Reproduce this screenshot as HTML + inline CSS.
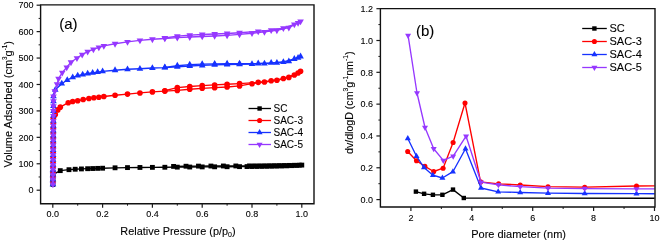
<!DOCTYPE html>
<html><head><meta charset="utf-8"><style>
html,body{margin:0;padding:0;background:#fff;width:661px;height:241px;overflow:hidden}
svg{display:block;transform:translateZ(0)}
text{font-family:"Liberation Sans", sans-serif;fill:#000;stroke:#000;stroke-width:0.1px}
</style></head><body>
<svg width="661" height="241" viewBox="0 0 661 241">
<defs><clipPath id="cl"><rect x="40" y="5" width="274" height="198.3"/></clipPath>
<clipPath id="cr"><rect x="380.45" y="8.7" width="274.15" height="198.5"/></clipPath></defs>
<g clip-path="url(#cl)">
<path d="M52.94 184.39 L52.97 179.5 L53 174.61 L60.27 170.64 L68.98 169.68 L75.21 169.24 L81.44 168.94 L87.66 168.7 L92.64 168.53 L97.62 168.37 L102.6 168.21 L115.05 167.81 L127.5 167.6 L139.95 167.47 L152.4 167.36 L164.85 167.26 L177.3 167.14 L189.75 167.03 L202.2 166.91 L214.65 166.81 L227.1 166.72 L239.55 166.64 L247.02 166.57 L252 166.52 L256.98 166.47 L261.96 166.4 L266.94 166.33 L271.92 166.24 L276.9 166.15 L281.88 166.02 L286.86 165.85 L291.84 165.65 L296.82 165.39 L301.8 165.09" fill="none" stroke="#000000" stroke-width="1.35" stroke-linejoin="round"/>
<path d="M299.31 165.16 L294.33 165.28 L289.35 165.39 L284.37 165.5 L279.39 165.58 L274.41 165.65 L269.43 165.72 L264.45 165.78 L259.47 165.83 L254.49 165.87 L249.51 165.9 L235.81 165.95 L223.37 165.98 L210.92 166.04 L198.46 166.1 L186.01 166.21 L173.56 166.41" fill="none" stroke="#000000" stroke-width="1.35" stroke-linejoin="round"/>
<rect x="50.52" y="181.97" width="4.84" height="4.84" fill="#000000"/>
<rect x="50.55" y="177.08" width="4.84" height="4.84" fill="#000000"/>
<rect x="50.58" y="172.19" width="4.84" height="4.84" fill="#000000"/>
<rect x="57.85" y="168.22" width="4.84" height="4.84" fill="#000000"/>
<rect x="66.56" y="167.26" width="4.84" height="4.84" fill="#000000"/>
<rect x="72.79" y="166.82" width="4.84" height="4.84" fill="#000000"/>
<rect x="79.02" y="166.52" width="4.84" height="4.84" fill="#000000"/>
<rect x="85.24" y="166.28" width="4.84" height="4.84" fill="#000000"/>
<rect x="90.22" y="166.11" width="4.84" height="4.84" fill="#000000"/>
<rect x="95.2" y="165.95" width="4.84" height="4.84" fill="#000000"/>
<rect x="100.18" y="165.79" width="4.84" height="4.84" fill="#000000"/>
<rect x="112.63" y="165.39" width="4.84" height="4.84" fill="#000000"/>
<rect x="125.08" y="165.18" width="4.84" height="4.84" fill="#000000"/>
<rect x="137.53" y="165.05" width="4.84" height="4.84" fill="#000000"/>
<rect x="149.98" y="164.94" width="4.84" height="4.84" fill="#000000"/>
<rect x="162.43" y="164.84" width="4.84" height="4.84" fill="#000000"/>
<rect x="174.88" y="164.72" width="4.84" height="4.84" fill="#000000"/>
<rect x="187.33" y="164.61" width="4.84" height="4.84" fill="#000000"/>
<rect x="199.78" y="164.49" width="4.84" height="4.84" fill="#000000"/>
<rect x="212.23" y="164.39" width="4.84" height="4.84" fill="#000000"/>
<rect x="224.68" y="164.3" width="4.84" height="4.84" fill="#000000"/>
<rect x="237.13" y="164.22" width="4.84" height="4.84" fill="#000000"/>
<rect x="244.6" y="164.15" width="4.84" height="4.84" fill="#000000"/>
<rect x="249.58" y="164.1" width="4.84" height="4.84" fill="#000000"/>
<rect x="254.56" y="164.05" width="4.84" height="4.84" fill="#000000"/>
<rect x="259.54" y="163.98" width="4.84" height="4.84" fill="#000000"/>
<rect x="264.52" y="163.91" width="4.84" height="4.84" fill="#000000"/>
<rect x="269.5" y="163.82" width="4.84" height="4.84" fill="#000000"/>
<rect x="274.48" y="163.73" width="4.84" height="4.84" fill="#000000"/>
<rect x="279.46" y="163.6" width="4.84" height="4.84" fill="#000000"/>
<rect x="284.44" y="163.43" width="4.84" height="4.84" fill="#000000"/>
<rect x="289.42" y="163.23" width="4.84" height="4.84" fill="#000000"/>
<rect x="294.4" y="162.97" width="4.84" height="4.84" fill="#000000"/>
<rect x="299.38" y="162.67" width="4.84" height="4.84" fill="#000000"/>
<rect x="296.89" y="162.74" width="4.84" height="4.84" fill="#000000"/>
<rect x="291.91" y="162.86" width="4.84" height="4.84" fill="#000000"/>
<rect x="286.93" y="162.97" width="4.84" height="4.84" fill="#000000"/>
<rect x="281.95" y="163.08" width="4.84" height="4.84" fill="#000000"/>
<rect x="276.97" y="163.16" width="4.84" height="4.84" fill="#000000"/>
<rect x="271.99" y="163.23" width="4.84" height="4.84" fill="#000000"/>
<rect x="267.01" y="163.3" width="4.84" height="4.84" fill="#000000"/>
<rect x="262.03" y="163.36" width="4.84" height="4.84" fill="#000000"/>
<rect x="257.05" y="163.41" width="4.84" height="4.84" fill="#000000"/>
<rect x="252.07" y="163.45" width="4.84" height="4.84" fill="#000000"/>
<rect x="247.09" y="163.48" width="4.84" height="4.84" fill="#000000"/>
<rect x="233.4" y="163.53" width="4.84" height="4.84" fill="#000000"/>
<rect x="220.95" y="163.56" width="4.84" height="4.84" fill="#000000"/>
<rect x="208.5" y="163.62" width="4.84" height="4.84" fill="#000000"/>
<rect x="196.04" y="163.68" width="4.84" height="4.84" fill="#000000"/>
<rect x="183.59" y="163.79" width="4.84" height="4.84" fill="#000000"/>
<rect x="171.15" y="163.99" width="4.84" height="4.84" fill="#000000"/>
<path d="M52.95 181.94 L52.98 177.05 L53.01 172.16 L53.04 167.27 L53.08 162.38 L53.11 157.49 L53.14 152.6 L53.17 147.71 L53.2 142.82 L53.23 137.93 L53.26 133.05 L53.29 128.16 L53.32 123.27 L53.35 118.38 L55.29 114.61 L57.78 109.93 L60.27 107.16 L68.24 102.71 L72.72 101.55 L77.7 100.8 L83.18 99.49 L88.91 98.49 L93.88 97.8 L98.86 97.2 L103.84 96.51 L115.05 95.21 L127.5 94.1 L139.95 92.94 L152.4 91.88 L164.85 91.09 L177.3 90.4 L189.75 89.26 L202.2 88.3 L214.65 87.68 L227.1 87.03 L239.55 85.9 L252 83.69 L264.45 81.97 L276.9 80.25 L288.85 77.38 L298.06 73.06" fill="none" stroke="#FF0000" stroke-width="1.35" stroke-linejoin="round"/>
<path d="M300.56 71.27 L294.33 74.97 L283.37 78.56 L271.17 80.8 L258.22 82.37 L239.55 83.61 L227.1 84.28 L214.65 84.94 L202.2 85.66 L189.75 86.49 L177.3 87.65 L164.85 90.69" fill="none" stroke="#FF0000" stroke-width="1.35" stroke-linejoin="round"/>
<circle cx="52.95" cy="181.94" r="2.81" fill="#FF0000"/>
<circle cx="52.98" cy="177.05" r="2.81" fill="#FF0000"/>
<circle cx="53.01" cy="172.16" r="2.81" fill="#FF0000"/>
<circle cx="53.04" cy="167.27" r="2.81" fill="#FF0000"/>
<circle cx="53.08" cy="162.38" r="2.81" fill="#FF0000"/>
<circle cx="53.11" cy="157.49" r="2.81" fill="#FF0000"/>
<circle cx="53.14" cy="152.6" r="2.81" fill="#FF0000"/>
<circle cx="53.17" cy="147.71" r="2.81" fill="#FF0000"/>
<circle cx="53.2" cy="142.82" r="2.81" fill="#FF0000"/>
<circle cx="53.23" cy="137.93" r="2.81" fill="#FF0000"/>
<circle cx="53.26" cy="133.05" r="2.81" fill="#FF0000"/>
<circle cx="53.29" cy="128.16" r="2.81" fill="#FF0000"/>
<circle cx="53.32" cy="123.27" r="2.81" fill="#FF0000"/>
<circle cx="53.35" cy="118.38" r="2.81" fill="#FF0000"/>
<circle cx="55.29" cy="114.61" r="2.81" fill="#FF0000"/>
<circle cx="57.78" cy="109.93" r="2.81" fill="#FF0000"/>
<circle cx="60.27" cy="107.16" r="2.81" fill="#FF0000"/>
<circle cx="68.24" cy="102.71" r="2.81" fill="#FF0000"/>
<circle cx="72.72" cy="101.55" r="2.81" fill="#FF0000"/>
<circle cx="77.7" cy="100.8" r="2.81" fill="#FF0000"/>
<circle cx="83.18" cy="99.49" r="2.81" fill="#FF0000"/>
<circle cx="88.91" cy="98.49" r="2.81" fill="#FF0000"/>
<circle cx="93.88" cy="97.8" r="2.81" fill="#FF0000"/>
<circle cx="98.86" cy="97.2" r="2.81" fill="#FF0000"/>
<circle cx="103.84" cy="96.51" r="2.81" fill="#FF0000"/>
<circle cx="115.05" cy="95.21" r="2.81" fill="#FF0000"/>
<circle cx="127.5" cy="94.1" r="2.81" fill="#FF0000"/>
<circle cx="139.95" cy="92.94" r="2.81" fill="#FF0000"/>
<circle cx="152.4" cy="91.88" r="2.81" fill="#FF0000"/>
<circle cx="164.85" cy="91.09" r="2.81" fill="#FF0000"/>
<circle cx="177.3" cy="90.4" r="2.81" fill="#FF0000"/>
<circle cx="189.75" cy="89.26" r="2.81" fill="#FF0000"/>
<circle cx="202.2" cy="88.3" r="2.81" fill="#FF0000"/>
<circle cx="214.65" cy="87.68" r="2.81" fill="#FF0000"/>
<circle cx="227.1" cy="87.03" r="2.81" fill="#FF0000"/>
<circle cx="239.55" cy="85.9" r="2.81" fill="#FF0000"/>
<circle cx="252" cy="83.69" r="2.81" fill="#FF0000"/>
<circle cx="264.45" cy="81.97" r="2.81" fill="#FF0000"/>
<circle cx="276.9" cy="80.25" r="2.81" fill="#FF0000"/>
<circle cx="288.85" cy="77.38" r="2.81" fill="#FF0000"/>
<circle cx="298.06" cy="73.06" r="2.81" fill="#FF0000"/>
<circle cx="300.56" cy="71.27" r="2.81" fill="#FF0000"/>
<circle cx="294.33" cy="74.97" r="2.81" fill="#FF0000"/>
<circle cx="283.37" cy="78.56" r="2.81" fill="#FF0000"/>
<circle cx="271.17" cy="80.8" r="2.81" fill="#FF0000"/>
<circle cx="258.22" cy="82.37" r="2.81" fill="#FF0000"/>
<circle cx="239.55" cy="83.61" r="2.81" fill="#FF0000"/>
<circle cx="227.1" cy="84.28" r="2.81" fill="#FF0000"/>
<circle cx="214.65" cy="84.94" r="2.81" fill="#FF0000"/>
<circle cx="202.2" cy="85.66" r="2.81" fill="#FF0000"/>
<circle cx="189.75" cy="86.49" r="2.81" fill="#FF0000"/>
<circle cx="177.3" cy="87.65" r="2.81" fill="#FF0000"/>
<circle cx="164.85" cy="90.69" r="2.81" fill="#FF0000"/>
<path d="M52.94 184.39 L52.97 179.5 L53 174.61 L53.03 169.72 L53.06 164.83 L53.09 159.94 L53.12 155.05 L53.15 150.16 L53.18 145.27 L53.21 140.38 L53.24 135.49 L53.28 130.6 L53.31 125.71 L53.34 120.82 L53.37 115.93 L53.4 111.04 L53.43 106.15 L53.46 101.26 L53.49 96.37 L55.29 89.77 L61.76 83.69 L67.24 79.99 L72.72 77.34 L77.7 75.63 L82.68 74.57 L87.66 73.51 L92.64 72.8 L97.62 72.19 L102.6 71.4 L115.05 70.21 L127.5 69.28 L139.95 68.76 L152.4 68.01 L164.85 67.58 L177.3 66.77 L189.75 65.98 L202.2 65.45 L214.65 64.92 L227.1 64.53 L239.55 64.39 L252 64.13 L264.45 63.6 L276.9 62.81 L288.85 61.33 L298.06 57.73" fill="none" stroke="#1632FF" stroke-width="1.35" stroke-linejoin="round"/>
<path d="M300.56 56.46 L294.33 58.96 L283.37 62.01 L271.17 62.94 L258.22 63.47 L239.55 63.6 L227.1 63.71 L214.65 63.86 L202.2 64.16 L189.75 64.66 L177.3 65.72 L164.85 67.43" fill="none" stroke="#1632FF" stroke-width="1.35" stroke-linejoin="round"/>
<path d="M52.94 180.54L56.24 186.31L49.64 186.31Z" fill="#1632FF"/>
<path d="M52.97 175.65L56.27 181.42L49.67 181.42Z" fill="#1632FF"/>
<path d="M53 170.76L56.3 176.53L49.7 176.53Z" fill="#1632FF"/>
<path d="M53.03 165.87L56.33 171.64L49.73 171.64Z" fill="#1632FF"/>
<path d="M53.06 160.98L56.36 166.75L49.76 166.75Z" fill="#1632FF"/>
<path d="M53.09 156.09L56.39 161.86L49.79 161.86Z" fill="#1632FF"/>
<path d="M53.12 151.2L56.42 156.97L49.82 156.97Z" fill="#1632FF"/>
<path d="M53.15 146.31L56.45 152.08L49.85 152.08Z" fill="#1632FF"/>
<path d="M53.18 141.42L56.48 147.19L49.88 147.19Z" fill="#1632FF"/>
<path d="M53.21 136.53L56.51 142.3L49.91 142.3Z" fill="#1632FF"/>
<path d="M53.24 131.64L56.54 137.41L49.95 137.41Z" fill="#1632FF"/>
<path d="M53.28 126.75L56.58 132.53L49.98 132.53Z" fill="#1632FF"/>
<path d="M53.31 121.86L56.61 127.64L50.01 127.64Z" fill="#1632FF"/>
<path d="M53.34 116.97L56.64 122.75L50.04 122.75Z" fill="#1632FF"/>
<path d="M53.37 112.08L56.67 117.86L50.07 117.86Z" fill="#1632FF"/>
<path d="M53.4 107.19L56.7 112.97L50.1 112.97Z" fill="#1632FF"/>
<path d="M53.43 102.3L56.73 108.08L50.13 108.08Z" fill="#1632FF"/>
<path d="M53.46 97.41L56.76 103.19L50.16 103.19Z" fill="#1632FF"/>
<path d="M53.49 92.52L56.79 98.3L50.19 98.3Z" fill="#1632FF"/>
<path d="M55.29 85.92L58.59 91.69L51.99 91.69Z" fill="#1632FF"/>
<path d="M61.76 79.84L65.06 85.61L58.46 85.61Z" fill="#1632FF"/>
<path d="M67.24 76.14L70.54 81.91L63.94 81.91Z" fill="#1632FF"/>
<path d="M72.72 73.49L76.02 79.27L69.42 79.27Z" fill="#1632FF"/>
<path d="M77.7 71.78L81 77.55L74.4 77.55Z" fill="#1632FF"/>
<path d="M82.68 70.72L85.98 76.49L79.38 76.49Z" fill="#1632FF"/>
<path d="M87.66 69.66L90.96 75.44L84.36 75.44Z" fill="#1632FF"/>
<path d="M92.64 68.95L95.94 74.72L89.34 74.72Z" fill="#1632FF"/>
<path d="M97.62 68.34L100.92 74.12L94.32 74.12Z" fill="#1632FF"/>
<path d="M102.6 67.55L105.9 73.32L99.3 73.32Z" fill="#1632FF"/>
<path d="M115.05 66.36L118.35 72.13L111.75 72.13Z" fill="#1632FF"/>
<path d="M127.5 65.43L130.8 71.21L124.2 71.21Z" fill="#1632FF"/>
<path d="M139.95 64.91L143.25 70.69L136.65 70.69Z" fill="#1632FF"/>
<path d="M152.4 64.16L155.7 69.94L149.1 69.94Z" fill="#1632FF"/>
<path d="M164.85 63.73L168.15 69.51L161.55 69.51Z" fill="#1632FF"/>
<path d="M177.3 62.92L180.6 68.7L174 68.7Z" fill="#1632FF"/>
<path d="M189.75 62.13L193.05 67.9L186.45 67.9Z" fill="#1632FF"/>
<path d="M202.2 61.6L205.5 67.38L198.9 67.38Z" fill="#1632FF"/>
<path d="M214.65 61.07L217.95 66.85L211.35 66.85Z" fill="#1632FF"/>
<path d="M227.1 60.68L230.4 66.45L223.8 66.45Z" fill="#1632FF"/>
<path d="M239.55 60.54L242.85 66.32L236.25 66.32Z" fill="#1632FF"/>
<path d="M252 60.28L255.3 66.05L248.7 66.05Z" fill="#1632FF"/>
<path d="M264.45 59.75L267.75 65.53L261.15 65.53Z" fill="#1632FF"/>
<path d="M276.9 58.96L280.2 64.73L273.6 64.73Z" fill="#1632FF"/>
<path d="M288.85 57.48L292.15 63.25L285.55 63.25Z" fill="#1632FF"/>
<path d="M298.06 53.88L301.37 59.65L294.76 59.65Z" fill="#1632FF"/>
<path d="M300.56 52.61L303.86 58.39L297.25 58.39Z" fill="#1632FF"/>
<path d="M294.33 55.11L297.63 60.88L291.03 60.88Z" fill="#1632FF"/>
<path d="M283.37 58.16L286.67 63.94L280.07 63.94Z" fill="#1632FF"/>
<path d="M271.17 59.09L274.47 64.86L267.87 64.86Z" fill="#1632FF"/>
<path d="M258.22 59.62L261.52 65.39L254.92 65.39Z" fill="#1632FF"/>
<path d="M239.55 59.75L242.85 65.53L236.25 65.53Z" fill="#1632FF"/>
<path d="M227.1 59.86L230.4 65.63L223.8 65.63Z" fill="#1632FF"/>
<path d="M214.65 60.01L217.95 65.79L211.35 65.79Z" fill="#1632FF"/>
<path d="M202.2 60.31L205.5 66.08L198.9 66.08Z" fill="#1632FF"/>
<path d="M189.75 60.81L193.05 66.58L186.45 66.58Z" fill="#1632FF"/>
<path d="M177.3 61.87L180.6 67.64L174 67.64Z" fill="#1632FF"/>
<path d="M164.85 63.58L168.15 69.35L161.55 69.35Z" fill="#1632FF"/>
<path d="M52.94 184.39 L52.97 179.5 L53 174.61 L53.03 169.72 L53.06 164.83 L53.09 159.94 L53.12 155.05 L53.15 150.16 L53.18 145.27 L53.21 140.38 L53.24 135.49 L53.28 130.6 L53.31 125.71 L53.34 120.82 L53.37 115.93 L53.4 111.04 L53.43 106.15 L53.46 101.26 L53.49 96.37 L54.79 91.09 L57.03 84.22 L58.53 78.67 L62.26 72.59 L66.74 67.3 L70.98 62.28 L76.95 58.05 L82.18 54.61 L87.66 51.71 L93.39 49.33 L98.86 47.48 L103.84 45.89 L115.05 43.78 L127.5 41.93 L139.95 40.34 L152.4 39.28 L164.85 38.49 L177.3 37.7 L189.75 37.04 L202.2 36.51 L214.65 35.98 L227.1 35.32 L239.55 34.4 L252 33.21 L264.45 31.88 L276.9 30.3 L288.85 27.67 L298.06 22.89" fill="none" stroke="#9638FF" stroke-width="1.35" stroke-linejoin="round"/>
<path d="M300.56 21.31 L294.33 24.51 L283.37 28.23 L271.17 30.24 L258.22 31.43 L239.55 32.75 L227.1 33.47 L214.65 34 L202.2 34.53 L189.75 35.19 L177.3 36.11 L164.85 38.01" fill="none" stroke="#9638FF" stroke-width="1.35" stroke-linejoin="round"/>
<path d="M52.94 188.24L56.24 182.46L49.64 182.46Z" fill="#9638FF"/>
<path d="M52.97 183.35L56.27 177.57L49.67 177.57Z" fill="#9638FF"/>
<path d="M53 178.46L56.3 172.68L49.7 172.68Z" fill="#9638FF"/>
<path d="M53.03 173.57L56.33 167.79L49.73 167.79Z" fill="#9638FF"/>
<path d="M53.06 168.68L56.36 162.9L49.76 162.9Z" fill="#9638FF"/>
<path d="M53.09 163.79L56.39 158.01L49.79 158.01Z" fill="#9638FF"/>
<path d="M53.12 158.9L56.42 153.12L49.82 153.12Z" fill="#9638FF"/>
<path d="M53.15 154.01L56.45 148.23L49.85 148.23Z" fill="#9638FF"/>
<path d="M53.18 149.12L56.48 143.34L49.88 143.34Z" fill="#9638FF"/>
<path d="M53.21 144.23L56.51 138.45L49.91 138.45Z" fill="#9638FF"/>
<path d="M53.24 139.34L56.54 133.56L49.95 133.56Z" fill="#9638FF"/>
<path d="M53.28 134.45L56.58 128.68L49.98 128.68Z" fill="#9638FF"/>
<path d="M53.31 129.56L56.61 123.79L50.01 123.79Z" fill="#9638FF"/>
<path d="M53.34 124.67L56.64 118.9L50.04 118.9Z" fill="#9638FF"/>
<path d="M53.37 119.78L56.67 114.01L50.07 114.01Z" fill="#9638FF"/>
<path d="M53.4 114.89L56.7 109.12L50.1 109.12Z" fill="#9638FF"/>
<path d="M53.43 110L56.73 104.23L50.13 104.23Z" fill="#9638FF"/>
<path d="M53.46 105.11L56.76 99.34L50.16 99.34Z" fill="#9638FF"/>
<path d="M53.49 100.22L56.79 94.45L50.19 94.45Z" fill="#9638FF"/>
<path d="M54.79 94.94L58.09 89.16L51.49 89.16Z" fill="#9638FF"/>
<path d="M57.03 88.07L60.33 82.29L53.73 82.29Z" fill="#9638FF"/>
<path d="M58.53 82.52L61.83 76.74L55.23 76.74Z" fill="#9638FF"/>
<path d="M62.26 76.44L65.56 70.66L58.96 70.66Z" fill="#9638FF"/>
<path d="M66.74 71.15L70.04 65.38L63.44 65.38Z" fill="#9638FF"/>
<path d="M70.98 66.13L74.28 60.35L67.68 60.35Z" fill="#9638FF"/>
<path d="M76.95 61.9L80.25 56.13L73.65 56.13Z" fill="#9638FF"/>
<path d="M82.18 58.46L85.48 52.69L78.88 52.69Z" fill="#9638FF"/>
<path d="M87.66 55.56L90.96 49.78L84.36 49.78Z" fill="#9638FF"/>
<path d="M93.39 53.18L96.69 47.4L90.09 47.4Z" fill="#9638FF"/>
<path d="M98.86 51.33L102.16 45.55L95.56 45.55Z" fill="#9638FF"/>
<path d="M103.84 49.74L107.14 43.97L100.55 43.97Z" fill="#9638FF"/>
<path d="M115.05 47.63L118.35 41.85L111.75 41.85Z" fill="#9638FF"/>
<path d="M127.5 45.78L130.8 40L124.2 40Z" fill="#9638FF"/>
<path d="M139.95 44.19L143.25 38.42L136.65 38.42Z" fill="#9638FF"/>
<path d="M152.4 43.13L155.7 37.36L149.1 37.36Z" fill="#9638FF"/>
<path d="M164.85 42.34L168.15 36.57L161.55 36.57Z" fill="#9638FF"/>
<path d="M177.3 41.55L180.6 35.77L174 35.77Z" fill="#9638FF"/>
<path d="M189.75 40.89L193.05 35.11L186.45 35.11Z" fill="#9638FF"/>
<path d="M202.2 40.36L205.5 34.58L198.9 34.58Z" fill="#9638FF"/>
<path d="M214.65 39.83L217.95 34.06L211.35 34.06Z" fill="#9638FF"/>
<path d="M227.1 39.17L230.4 33.4L223.8 33.4Z" fill="#9638FF"/>
<path d="M239.55 38.25L242.85 32.47L236.25 32.47Z" fill="#9638FF"/>
<path d="M252 37.06L255.3 31.28L248.7 31.28Z" fill="#9638FF"/>
<path d="M264.45 35.73L267.75 29.96L261.15 29.96Z" fill="#9638FF"/>
<path d="M276.9 34.15L280.2 28.37L273.6 28.37Z" fill="#9638FF"/>
<path d="M288.85 31.52L292.15 25.75L285.55 25.75Z" fill="#9638FF"/>
<path d="M298.06 26.74L301.37 20.97L294.76 20.97Z" fill="#9638FF"/>
<path d="M300.56 25.16L303.86 19.39L297.25 19.39Z" fill="#9638FF"/>
<path d="M294.33 28.36L297.63 22.59L291.03 22.59Z" fill="#9638FF"/>
<path d="M283.37 32.08L286.67 26.3L280.07 26.3Z" fill="#9638FF"/>
<path d="M271.17 34.09L274.47 28.32L267.87 28.32Z" fill="#9638FF"/>
<path d="M258.22 35.28L261.52 29.5L254.92 29.5Z" fill="#9638FF"/>
<path d="M239.55 36.6L242.85 30.82L236.25 30.82Z" fill="#9638FF"/>
<path d="M227.1 37.32L230.4 31.55L223.8 31.55Z" fill="#9638FF"/>
<path d="M214.65 37.85L217.95 32.07L211.35 32.07Z" fill="#9638FF"/>
<path d="M202.2 38.38L205.5 32.6L198.9 32.6Z" fill="#9638FF"/>
<path d="M189.75 39.04L193.05 33.26L186.45 33.26Z" fill="#9638FF"/>
<path d="M177.3 39.96L180.6 34.19L174 34.19Z" fill="#9638FF"/>
<path d="M164.85 41.86L168.15 36.09L161.55 36.09Z" fill="#9638FF"/>
</g>
<g clip-path="url(#cr)">
<path d="M415.9 191.6 L424.1 193.8 L432.9 194.8 L442.4 194.8 L453 189.6 L463.8 198 L700 198.3" fill="none" stroke="#000000" stroke-width="1.35" stroke-linejoin="round"/>
<rect x="413.7" y="189.4" width="4.4" height="4.4" fill="#000000"/>
<rect x="421.9" y="191.6" width="4.4" height="4.4" fill="#000000"/>
<rect x="430.7" y="192.6" width="4.4" height="4.4" fill="#000000"/>
<rect x="440.2" y="192.6" width="4.4" height="4.4" fill="#000000"/>
<rect x="450.8" y="187.4" width="4.4" height="4.4" fill="#000000"/>
<rect x="461.6" y="195.8" width="4.4" height="4.4" fill="#000000"/>
<path d="M407.7 151.5 L416.5 160.8 L424.9 166.4 L433.7 171.5 L443.1 168.2 L453.1 142.5 L465 103 L480.6 181.9 L498.6 183.8 L520.2 185 L548 186.7 L584.7 187.2 L636.5 186 L700 185.5" fill="none" stroke="#FF0000" stroke-width="1.35" stroke-linejoin="round"/>
<circle cx="407.7" cy="151.5" r="2.55" fill="#FF0000"/>
<circle cx="416.5" cy="160.8" r="2.55" fill="#FF0000"/>
<circle cx="424.9" cy="166.4" r="2.55" fill="#FF0000"/>
<circle cx="433.7" cy="171.5" r="2.55" fill="#FF0000"/>
<circle cx="443.1" cy="168.2" r="2.55" fill="#FF0000"/>
<circle cx="453.1" cy="142.5" r="2.55" fill="#FF0000"/>
<circle cx="465" cy="103" r="2.55" fill="#FF0000"/>
<circle cx="480.6" cy="181.9" r="2.55" fill="#FF0000"/>
<circle cx="498.6" cy="183.8" r="2.55" fill="#FF0000"/>
<circle cx="520.2" cy="185" r="2.55" fill="#FF0000"/>
<circle cx="548" cy="186.7" r="2.55" fill="#FF0000"/>
<circle cx="584.7" cy="187.2" r="2.55" fill="#FF0000"/>
<circle cx="636.5" cy="186" r="2.55" fill="#FF0000"/>
<path d="M407.8 138.5 L416.5 156.2 L424 167.6 L432.9 175.2 L442.4 178 L452.9 171.7 L465.5 148.7 L481 188 L498.2 191.8 L520.2 192.5 L548 193.2 L584.7 193.5 L636.5 193.7 L700 193.8" fill="none" stroke="#1632FF" stroke-width="1.35" stroke-linejoin="round"/>
<path d="M407.8 135L410.8 140.25L404.8 140.25Z" fill="#1632FF"/>
<path d="M416.5 152.7L419.5 157.95L413.5 157.95Z" fill="#1632FF"/>
<path d="M424 164.1L427 169.35L421 169.35Z" fill="#1632FF"/>
<path d="M432.9 171.7L435.9 176.95L429.9 176.95Z" fill="#1632FF"/>
<path d="M442.4 174.5L445.4 179.75L439.4 179.75Z" fill="#1632FF"/>
<path d="M452.9 168.2L455.9 173.45L449.9 173.45Z" fill="#1632FF"/>
<path d="M465.5 145.2L468.5 150.45L462.5 150.45Z" fill="#1632FF"/>
<path d="M481 184.5L484 189.75L478 189.75Z" fill="#1632FF"/>
<path d="M498.2 188.3L501.2 193.55L495.2 193.55Z" fill="#1632FF"/>
<path d="M520.2 189L523.2 194.25L517.2 194.25Z" fill="#1632FF"/>
<path d="M548 189.7L551 194.95L545 194.95Z" fill="#1632FF"/>
<path d="M584.7 190L587.7 195.25L581.7 195.25Z" fill="#1632FF"/>
<path d="M636.5 190.2L639.5 195.45L633.5 195.45Z" fill="#1632FF"/>
<path d="M408.1 35.6 L417 93 L425 127.5 L433.7 148.7 L443.3 160.4 L453.2 156.2 L466.1 136.2 L481 182.2 L498.4 184.8 L520.2 186.7 L548 188.1 L584.7 188.6 L636.5 188.9 L700 189" fill="none" stroke="#9638FF" stroke-width="1.35" stroke-linejoin="round"/>
<path d="M408.1 39.1L411.1 33.85L405.1 33.85Z" fill="#9638FF"/>
<path d="M417 96.5L420 91.25L414 91.25Z" fill="#9638FF"/>
<path d="M425 131L428 125.75L422 125.75Z" fill="#9638FF"/>
<path d="M433.7 152.2L436.7 146.95L430.7 146.95Z" fill="#9638FF"/>
<path d="M443.3 163.9L446.3 158.65L440.3 158.65Z" fill="#9638FF"/>
<path d="M453.2 159.7L456.2 154.45L450.2 154.45Z" fill="#9638FF"/>
<path d="M466.1 139.7L469.1 134.45L463.1 134.45Z" fill="#9638FF"/>
<path d="M481 185.7L484 180.45L478 180.45Z" fill="#9638FF"/>
<path d="M498.4 188.3L501.4 183.05L495.4 183.05Z" fill="#9638FF"/>
<path d="M520.2 190.2L523.2 184.95L517.2 184.95Z" fill="#9638FF"/>
<path d="M548 191.6L551 186.35L545 186.35Z" fill="#9638FF"/>
<path d="M584.7 192.1L587.7 186.85L581.7 186.85Z" fill="#9638FF"/>
<path d="M636.5 192.4L639.5 187.15L633.5 187.15Z" fill="#9638FF"/>
</g>
<path d="M40.6 4.9V203.7H314V4.9H40.6Z" fill="none" stroke="#111" stroke-width="1.4"/>
<path d="M36.6 190.2H40.6" stroke="#1a1a1a" stroke-width="1.2"/>
<text x="33.5" y="193.4" text-anchor="end" font-size="9">0</text>
<path d="M36.6 163.77H40.6" stroke="#1a1a1a" stroke-width="1.2"/>
<text x="33.5" y="166.97" text-anchor="end" font-size="9">100</text>
<path d="M36.6 137.34H40.6" stroke="#1a1a1a" stroke-width="1.2"/>
<text x="33.5" y="140.54" text-anchor="end" font-size="9">200</text>
<path d="M36.6 110.91H40.6" stroke="#1a1a1a" stroke-width="1.2"/>
<text x="33.5" y="114.11" text-anchor="end" font-size="9">300</text>
<path d="M36.6 84.48H40.6" stroke="#1a1a1a" stroke-width="1.2"/>
<text x="33.5" y="87.68" text-anchor="end" font-size="9">400</text>
<path d="M36.6 58.05H40.6" stroke="#1a1a1a" stroke-width="1.2"/>
<text x="33.5" y="61.25" text-anchor="end" font-size="9">500</text>
<path d="M36.6 31.62H40.6" stroke="#1a1a1a" stroke-width="1.2"/>
<text x="33.5" y="34.82" text-anchor="end" font-size="9">600</text>
<path d="M36.6 5.19H40.6" stroke="#1a1a1a" stroke-width="1.2"/>
<text x="33.5" y="8.39" text-anchor="end" font-size="9">700</text>
<path d="M38.6 176.98H40.6" stroke="#1a1a1a" stroke-width="1"/>
<path d="M38.6 150.56H40.6" stroke="#1a1a1a" stroke-width="1"/>
<path d="M38.6 124.12H40.6" stroke="#1a1a1a" stroke-width="1"/>
<path d="M38.6 97.69H40.6" stroke="#1a1a1a" stroke-width="1"/>
<path d="M38.6 71.27H40.6" stroke="#1a1a1a" stroke-width="1"/>
<path d="M38.6 44.84H40.6" stroke="#1a1a1a" stroke-width="1"/>
<path d="M38.6 18.41H40.6" stroke="#1a1a1a" stroke-width="1"/>
<path d="M52.8 203.7V207.7" stroke="#1a1a1a" stroke-width="1.2"/>
<text x="52.8" y="217" text-anchor="middle" font-size="9">0.0</text>
<path d="M102.6 203.7V207.7" stroke="#1a1a1a" stroke-width="1.2"/>
<text x="102.6" y="217" text-anchor="middle" font-size="9">0.2</text>
<path d="M152.4 203.7V207.7" stroke="#1a1a1a" stroke-width="1.2"/>
<text x="152.4" y="217" text-anchor="middle" font-size="9">0.4</text>
<path d="M202.2 203.7V207.7" stroke="#1a1a1a" stroke-width="1.2"/>
<text x="202.2" y="217" text-anchor="middle" font-size="9">0.6</text>
<path d="M252 203.7V207.7" stroke="#1a1a1a" stroke-width="1.2"/>
<text x="252" y="217" text-anchor="middle" font-size="9">0.8</text>
<path d="M301.8 203.7V207.7" stroke="#1a1a1a" stroke-width="1.2"/>
<text x="301.8" y="217" text-anchor="middle" font-size="9">1.0</text>
<path d="M77.7 203.7V205.7" stroke="#1a1a1a" stroke-width="1"/>
<path d="M127.5 203.7V205.7" stroke="#1a1a1a" stroke-width="1"/>
<path d="M177.3 203.7V205.7" stroke="#1a1a1a" stroke-width="1"/>
<path d="M227.1 203.7V205.7" stroke="#1a1a1a" stroke-width="1"/>
<path d="M276.9 203.7V205.7" stroke="#1a1a1a" stroke-width="1"/>
<text x="178" y="234.5" text-anchor="middle" font-size="10.9">Relative Pressure (p/p<tspan font-size="7" dy="2">0</tspan><tspan dy="-2">)</tspan></text>
<text transform="translate(11.8 104.3) rotate(-90)" text-anchor="middle" font-size="11">Volume Adsorbed (cm<tspan font-size="6.3" dy="-4.6">3</tspan><tspan dy="4.6">g</tspan><tspan font-size="6.3" dy="-4.6">-1</tspan><tspan dy="4.6">)</tspan></text>
<text x="59.2" y="29.2" font-size="15">(a)</text>
<path d="M380.4 8.6V207H655V8.6H380.4Z" fill="none" stroke="#111" stroke-width="1.4"/>
<path d="M376.4 199.6H380.4" stroke="#1a1a1a" stroke-width="1.2"/>
<text x="373" y="202.8" text-anchor="end" font-size="9">0.0</text>
<path d="M376.4 167.78H380.4" stroke="#1a1a1a" stroke-width="1.2"/>
<text x="373" y="170.98" text-anchor="end" font-size="9">0.2</text>
<path d="M376.4 135.96H380.4" stroke="#1a1a1a" stroke-width="1.2"/>
<text x="373" y="139.16" text-anchor="end" font-size="9">0.4</text>
<path d="M376.4 104.14H380.4" stroke="#1a1a1a" stroke-width="1.2"/>
<text x="373" y="107.34" text-anchor="end" font-size="9">0.6</text>
<path d="M376.4 72.32H380.4" stroke="#1a1a1a" stroke-width="1.2"/>
<text x="373" y="75.52" text-anchor="end" font-size="9">0.8</text>
<path d="M376.4 40.5H380.4" stroke="#1a1a1a" stroke-width="1.2"/>
<text x="373" y="43.7" text-anchor="end" font-size="9">1.0</text>
<path d="M376.4 8.68H380.4" stroke="#1a1a1a" stroke-width="1.2"/>
<text x="373" y="11.88" text-anchor="end" font-size="9">1.2</text>
<path d="M378.4 183.69H380.4" stroke="#1a1a1a" stroke-width="1"/>
<path d="M378.4 151.87H380.4" stroke="#1a1a1a" stroke-width="1"/>
<path d="M378.4 120.05H380.4" stroke="#1a1a1a" stroke-width="1"/>
<path d="M378.4 88.23H380.4" stroke="#1a1a1a" stroke-width="1"/>
<path d="M378.4 56.41H380.4" stroke="#1a1a1a" stroke-width="1"/>
<path d="M378.4 24.59H380.4" stroke="#1a1a1a" stroke-width="1"/>
<path d="M410.9 207V211" stroke="#1a1a1a" stroke-width="1.2"/>
<text x="410.9" y="220.6" text-anchor="middle" font-size="9">2</text>
<path d="M471.8 207V211" stroke="#1a1a1a" stroke-width="1.2"/>
<text x="471.8" y="220.6" text-anchor="middle" font-size="9">4</text>
<path d="M532.7 207V211" stroke="#1a1a1a" stroke-width="1.2"/>
<text x="532.7" y="220.6" text-anchor="middle" font-size="9">6</text>
<path d="M593.6 207V211" stroke="#1a1a1a" stroke-width="1.2"/>
<text x="593.6" y="220.6" text-anchor="middle" font-size="9">8</text>
<path d="M654.5 207V211" stroke="#1a1a1a" stroke-width="1.2"/>
<text x="654.5" y="220.6" text-anchor="middle" font-size="9">10</text>
<path d="M441.35 207V209" stroke="#1a1a1a" stroke-width="1"/>
<path d="M502.25 207V209" stroke="#1a1a1a" stroke-width="1"/>
<path d="M563.15 207V209" stroke="#1a1a1a" stroke-width="1"/>
<path d="M624.05 207V209" stroke="#1a1a1a" stroke-width="1"/>
<text x="518.6" y="238" text-anchor="middle" font-size="11">Pore diameter (nm)</text>
<text transform="translate(352.8 102.7) rotate(-90)" text-anchor="middle" font-size="10.6">dv/dlogD (cm<tspan font-size="6.8" dy="-4.4">3</tspan><tspan dy="4.4">g</tspan><tspan font-size="6.8" dy="-4.4">-1</tspan><tspan dy="4.4">nm</tspan><tspan font-size="6.8" dy="-4.4">-1</tspan><tspan dy="4.4">)</tspan></text>
<text x="416" y="36" font-size="15">(b)</text>
<path d="M248.5 108.5H271" stroke="#000000" stroke-width="1.3"/>
<rect x="257.4" y="106.3" width="4.4" height="4.4" fill="#000000"/>
<text x="273.5" y="112.1" font-size="10">SC</text>
<path d="M248.5 120.5H271" stroke="#FF0000" stroke-width="1.3"/>
<circle cx="259.6" cy="120.5" r="2.55" fill="#FF0000"/>
<text x="273.5" y="124.1" font-size="10">SAC-3</text>
<path d="M248.5 132.5H271" stroke="#1632FF" stroke-width="1.3"/>
<path d="M259.6 129L262.6 134.25L256.6 134.25Z" fill="#1632FF"/>
<text x="273.5" y="136.1" font-size="10">SAC-4</text>
<path d="M248.5 144.5H271" stroke="#9638FF" stroke-width="1.3"/>
<path d="M259.6 148L262.6 142.75L256.6 142.75Z" fill="#9638FF"/>
<text x="273.5" y="148.1" font-size="10">SAC-5</text>
<path d="M582.2 28.5H606.8" stroke="#000000" stroke-width="1.3"/>
<rect x="592.2" y="26.3" width="4.4" height="4.4" fill="#000000"/>
<text x="609.5" y="32.46" font-size="11">SC</text>
<path d="M582.2 41.5H606.8" stroke="#FF0000" stroke-width="1.3"/>
<circle cx="594.4" cy="41.5" r="2.55" fill="#FF0000"/>
<text x="609.5" y="45.46" font-size="11">SAC-3</text>
<path d="M582.2 54.5H606.8" stroke="#1632FF" stroke-width="1.3"/>
<path d="M594.4 51L597.4 56.25L591.4 56.25Z" fill="#1632FF"/>
<text x="609.5" y="58.46" font-size="11">SAC-4</text>
<path d="M582.2 67.5H606.8" stroke="#9638FF" stroke-width="1.3"/>
<path d="M594.4 71L597.4 65.75L591.4 65.75Z" fill="#9638FF"/>
<text x="609.5" y="71.46" font-size="11">SAC-5</text>
</svg>
</body></html>
